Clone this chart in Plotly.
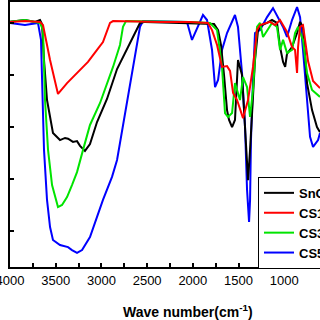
import plotly.graph_objects as go

# Wavenumber (cm-1) and transmittance (a.u.)
sno2_w = [4000, 3836, 3726, 3672, 3650, 3628, 3595, 3530, 3453, 3398, 3365, 3311, 3267, 3234, 3180, 3125, 3048, 2939, 2829, 2742, 2654, 2578, 2523, 2031, 1768, 1724, 1692, 1659, 1626, 1604, 1571, 1539, 1506, 1462, 1429, 1396, 1374, 1353, 1320, 1287, 1243, 1188, 1134, 1079, 1046, 1013, 990, 970, 915, 860, 827, 795, 751, 696, 642, 609]
sno2_t = [92.5, 93.2, 92.5, 93.2, 91.7, 78.1, 63.0, 50.6, 47.9, 48.7, 48.4, 47.2, 47.5, 45.7, 43.8, 46.4, 54.7, 63.4, 74.7, 80.8, 86.8, 92.1, 92.5, 92.1, 91.7, 89.4, 83.8, 72.5, 59.2, 55.5, 52.8, 55.5, 78.1, 72.5, 50.6, 32.8, 44.2, 56.6, 78.1, 89.4, 91.3, 92.1, 93.2, 92.1, 83.0, 77.4, 75.5, 80.4, 83.0, 88.3, 92.5, 90.6, 69.4, 59.2, 52.8, 50.9]

cs1_w = [4000, 3836, 3672, 3639, 3562, 3475, 3376, 3256, 3147, 3048, 2983, 2906, 2873, 2359, 2031, 1834, 1790, 1735, 1681, 1626, 1593, 1560, 1516, 1451, 1396, 1342, 1298, 1265, 1156, 1101, 1046, 970, 915, 882, 860, 849, 827, 795, 740, 685, 609]
cs1_t = [92.5, 92.8, 92.5, 91.3, 78.1, 65.3, 69.4, 73.6, 77.4, 81.9, 84.9, 92.1, 92.8, 92.5, 92.5, 92.1, 89.4, 83.8, 75.5, 75.8, 74.0, 65.7, 63.0, 56.2, 63.0, 75.5, 89.4, 91.3, 92.5, 91.3, 93.2, 88.7, 83.0, 81.9, 73.2, 83.0, 90.6, 91.3, 77.7, 70.2, 67.5]

cs3_w = [4000, 3836, 3672, 3639, 3617, 3584, 3540, 3475, 3431, 3376, 3322, 3267, 3201, 3125, 3015, 2873, 2797, 2764, 2731, 2031, 1812, 1735, 1681, 1648, 1615, 1571, 1539, 1484, 1451, 1407, 1374, 1342, 1298, 1265, 1232, 1188, 1134, 1079, 1046, 1013, 970, 915, 882, 849, 795, 751, 696, 609]
cs3_t = [92.5, 93.2, 92.1, 89.4, 63.0, 44.2, 30.9, 22.6, 23.4, 26.4, 30.9, 35.8, 44.2, 53.6, 61.9, 75.5, 83.8, 90.6, 92.8, 92.5, 92.1, 89.4, 75.5, 58.1, 56.6, 58.1, 69.4, 63.0, 71.7, 67.9, 56.6, 66.8, 90.6, 92.1, 86.8, 89.4, 92.1, 90.6, 81.9, 85.7, 80.8, 81.9, 88.3, 90.6, 85.7, 73.2, 66.8, 64.2]

cs5_w = [4000, 3836, 3694, 3661, 3628, 3595, 3562, 3530, 3453, 3365, 3322, 3267, 3212, 3125, 3048, 2983, 2884, 2829, 2797, 2687, 2578, 2545, 2140, 2064, 2009, 1954, 1889, 1845, 1790, 1757, 1724, 1681, 1626, 1539, 1506, 1462, 1429, 1407, 1396, 1385, 1374, 1364, 1342, 1320, 1265, 1188, 1123, 1068, 1013, 970, 915, 860, 827, 795, 751, 718, 685, 630, 609]
cs5_t = [92.1, 91.3, 92.1, 85.7, 44.2, 25.3, 15.1, 10.2, 8.3, 7.5, 6.4, 5.3, 6.4, 11.3, 18.9, 25.3, 34.0, 40.4, 46.8, 68.7, 90.6, 92.8, 92.5, 92.5, 85.7, 90.2, 95.1, 93.2, 81.9, 67.9, 70.6, 81.9, 88.3, 95.1, 90.6, 73.2, 52.8, 29.1, 19.6, 17.0, 25.3, 47.9, 70.6, 88.3, 89.4, 94.3, 97.7, 94.3, 90.6, 86.8, 93.2, 98.1, 94.3, 81.9, 63.0, 49.1, 45.3, 47.9, 50.6]

x_ticks = [4000, 3500, 3000, 2500, 2000, 1500, 1000, 500]
x_tick_text = ["4000", "3500", "3000", "2500", "2000", "1500", "1000", "500"]
y_ticks = [13.6, 33.2, 52.8, 72.5, 92.1]

FONT = "Liberation Sans, Arial, sans-serif"

fig = go.Figure()
series = [
    ("CS5", cs5_w, cs5_t, "#0000ff", 4),
    ("SnO<sub>2</sub>", sno2_w, sno2_t, "#000000", 1),
    ("CS3", cs3_w, cs3_t, "#00e400", 3),
    ("CS1", cs1_w, cs1_t, "#ff0000", 2),
]
for name, w, t, c, rank in series:
    fig.add_trace(go.Scatter(x=w, y=t, mode="lines", name=name,
                             line=dict(color=c, width=2), legendrank=rank))

fig.update_layout(
    width=320, height=320,
    margin=dict(l=10, r=0, t=2, b=53, autoexpand=False),
    paper_bgcolor="white", plot_bgcolor="white",
    showlegend=True,
    legend=dict(x=0.8, y=0.34, xanchor="left", yanchor="top",
                bgcolor="white", bordercolor="black", borderwidth=1,
                font=dict(family=FONT, size=13, color="black", weight="bold"),
                tracegroupgap=0),
    xaxis=dict(range=[4000, 609], tickvals=x_ticks, ticktext=x_tick_text,
               automargin=False, ticklabeloverflow="allow",
               ticks="inside", ticklen=4, tickwidth=1.5, tickcolor="black",
               minor=dict(dtick=250, ticks="inside", ticklen=4, tickcolor="black", tickwidth=1.5),
               showline=True, linecolor="black", linewidth=2, mirror=True,
               showgrid=False, zeroline=False,
               tickfont=dict(family=FONT, size=13, color="black")),
    yaxis=dict(range=[0, 100], tickvals=y_ticks, showticklabels=False,
               automargin=False,
               ticks="inside", ticklen=4, tickwidth=1.5, tickcolor="black",
               showline=True, linecolor="black", linewidth=2,
               showgrid=False, zeroline=False),
    annotations=[dict(text="<b>Wave number(cm<sup>-1</sup>)</b>", xref="paper", yref="paper",
                      x=0.574, y=-0.166, xanchor="center", yanchor="middle",
                      showarrow=False, font=dict(family=FONT, size=14, color="black"))],
)

fig.write_html("out.html")
